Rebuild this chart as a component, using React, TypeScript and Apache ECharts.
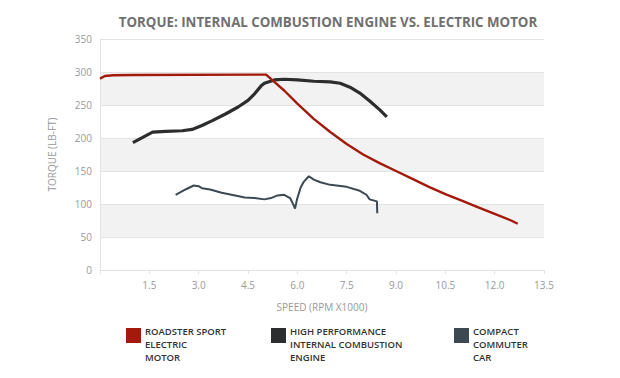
import React, { useEffect, useRef } from "react";
import * as echarts from "echarts";

const titleText = "TORQUE: INTERNAL COMBUSTION ENGINE VS. ELECTRIC MOTOR";
const xAxisName = "SPEED (RPM X1000)";
const yAxisName = "TORQUE (LB-FT)";

const seriesNames = [
  "ROADSTER SPORT ELECTRIC MOTOR",
  "HIGH PERFORMANCE INTERNAL COMBUSTION ENGINE",
  "COMPACT COMMUTER CAR",
];
const legendLines = [
  ["ROADSTER SPORT", "ELECTRIC", "MOTOR"],
  ["HIGH PERFORMANCE", "INTERNAL COMBUSTION", "ENGINE"],
  ["COMPACT", "COMMUTER", "CAR"],
];
const seriesColors = ["#a3190b", "#2c2d2f", "#3c4852"];

// [rpm x1000, torque lb-ft]
const roadster: [number, number][] = [
  [0, 290], [0.15, 294], [0.4, 295], [1.0, 295.5], [5.05, 296],
  [5.3, 285], [5.6, 272], [6.0, 252], [6.5, 229], [7.0, 209], [7.5, 191],
  [8.0, 175], [8.5, 162], [9.0, 150], [9.5, 138], [10.0, 126], [10.5, 115],
  [11.0, 105], [11.5, 95], [12.0, 85], [12.5, 75], [12.7, 70],
];

const highPerf: [number, number][] = [
  [1.0, 193], [1.3, 201], [1.6, 209], [2.0, 210], [2.5, 211], [2.8, 213],
  [3.1, 219], [3.4, 226], [3.8, 236], [4.2, 247], [4.5, 257], [4.7, 267],
  [4.9, 279], [5.0, 283], [5.3, 288], [5.6, 289], [6.0, 288], [6.5, 286],
  [7.0, 285], [7.3, 283], [7.6, 277], [7.9, 268], [8.2, 256], [8.5, 243],
  [8.72, 232],
];

const commuter: [number, number][] = [
  [2.3, 114], [2.6, 122], [2.85, 128], [3.0, 127], [3.1, 124], [3.35, 122],
  [3.7, 117], [4.0, 114], [4.4, 110], [4.7, 109], [5.0, 107], [5.2, 109],
  [5.4, 113], [5.6, 114], [5.78, 109], [5.88, 99], [5.93, 93], [5.99, 107],
  [6.1, 125], [6.2, 134], [6.35, 142], [6.5, 137], [6.7, 133], [7.0, 129],
  [7.5, 126], [7.9, 120], [8.1, 114], [8.2, 107], [8.42, 104], [8.43, 86],
];

const seriesData = [roadster, highPerf, commuter];
const seriesWidths = [2.4, 3.2, 2];

const legendX = [126, 271, 454];

export default function App() {
  const ref = useRef<HTMLDivElement>(null);
  useEffect(() => {
    document.body.style.margin = "0";
    const chart = echarts.init(ref.current!, undefined, { renderer: "svg" });
    const font = "'Open Sans', sans-serif";
    const graphics: any[] = [];
    legendLines.forEach((lines, i) => {
      graphics.push({
        type: "rect",
        left: legendX[i],
        top: 328,
        shape: { width: 15, height: 15 },
        style: { fill: seriesColors[i] },
      });
      lines.forEach((line, j) => {
        graphics.push({
          type: "text",
          x: legendX[i] + 19,
          y: 331.5 + j * 13,
          style: {
            text: line,
            fill: "#333",
            font: `600 9.5px ${font}`,
            verticalAlign: "middle",
            align: "left",
          },
        });
      });
    });
    chart.setOption({
      animation: false,
      title: {
        text: titleText,
        left: 323,
        textAlign: "center",
        top: 10,
        textStyle: {
          fontFamily: font,
          fontWeight: "bold",
          fontSize: 13.3,
          color: "#707070",
        },
      },
      grid: { left: 100, right: 76, top: 39, bottom: 108 },
      xAxis: {
        type: "value",
        min: 0,
        max: 13.5,
        interval: 1.5,
        name: xAxisName,
        nameLocation: "middle",
        nameGap: 32,
        nameTextStyle: { color: "#999", fontFamily: font, fontSize: 10 },
        axisLine: { show: true, lineStyle: { color: "#e3e3e3" } },
        axisTick: { show: true, length: 4, lineStyle: { color: "#e3e3e3" } },
        axisLabel: {
          color: "#999",
          fontFamily: font,
          fontSize: 10,
          margin: 10,
          formatter: (v: number) => (v === 0 ? "" : v.toFixed(1)),
        },
        splitLine: { show: false },
      },
      yAxis: {
        type: "value",
        min: 0,
        max: 350,
        interval: 50,
        name: yAxisName,
        nameLocation: "middle",
        nameGap: 43,
        nameTextStyle: { color: "#999", fontFamily: font, fontSize: 10 },
        axisLine: { show: true, lineStyle: { color: "#e3e3e3" } },
        axisTick: { show: false },
        axisLabel: { color: "#999", fontFamily: font, fontSize: 10, margin: 8 },
        splitLine: { show: true, lineStyle: { color: "#e3e3e3" } },
        splitArea: { show: true, areaStyle: { color: ["#ffffff", "#f2f2f2"] } },
      },
      graphic: graphics,
      series: seriesData.map((d, i) => ({
        type: "line",
        name: seriesNames[i],
        data: d,
        showSymbol: false,
        symbol: "none",
        lineStyle: { color: seriesColors[i], width: seriesWidths[i] },
        itemStyle: { color: seriesColors[i] },
        z: 3 - i,
      })),
    });
    return () => chart.dispose();
  }, []);
  return <div ref={ref} style={{ width: 620, height: 378 }} />;
}
